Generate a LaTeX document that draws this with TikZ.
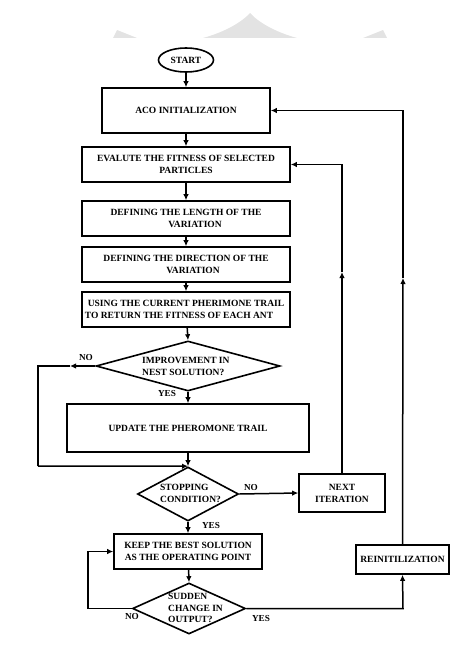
\documentclass[tikz,border=0pt]{standalone}
\usepackage{fontspec}
\setmainfont{Liberation Serif}
\usetikzlibrary{shapes.geometric,arrows.meta}
\begin{document}
\begin{tikzpicture}[x=1pt,y=-1pt,
  every node/.style={font=\fontsize{9.5}{12}\selectfont\bfseries, inner sep=0pt},
  box/.style={draw, line width=1.6pt, rectangle, align=center},
  dec/.style={draw, line width=1.6pt, diamond},
  lbl/.style={align=left},
  conn/.style={line width=1.5pt},
  arr/.style={line width=1.5pt, -{Latex[length=6pt,width=5.5pt]}},
  tag/.style={font=\fontsize{9.2}{11}\selectfont\bfseries}]
\useasboundingbox (0,0) rectangle (474,669);
% faint watermark
\fill[gray!22] (113,38) -- (117,30) -- (137,38) -- cycle;
\fill[gray!22] (203,38) .. controls (225,32) and (242,22) .. (250,13) .. controls (258,22) and (275,32) .. (297,38) -- cycle;
\fill[gray!22] (363,38) -- (383,30) -- (387,38) -- cycle;
% nodes
\node[draw, line width=1.6pt, ellipse, minimum width=55pt, minimum height=24pt] (start) at (186,60) {START};
\node[box, minimum width=168pt, minimum height=45pt] (aco) at (186,110.5) {ACO INITIALIZATION};
\node[box, minimum width=208pt, minimum height=35pt] (eval) at (186,164.5) {EVALUTE THE FITNESS OF SELECTED\\PARTICLES};
\node[box, minimum width=208pt, minimum height=35pt] (len) at (186,218.5) {DEFINING THE LENGTH OF THE\\\hspace*{18pt}VARIATION};
\node[box, minimum width=208pt, minimum height=35pt] (dir) at (186,264.5) {DEFINING THE DIRECTION OF THE\\\hspace*{14pt}VARIATION};
\node[box, minimum width=208pt, minimum height=35pt] (use) at (186,309.5) {USING THE CURRENT PHERIMONE TRAIL\\TO RETURN THE FITNESS OF EACH ANT\hspace*{14pt}};
\node[dec, minimum width=184pt, minimum height=50pt] (imp) at (188,366) {};
\node[lbl, anchor=west] (impt) at (142,366) {IMPROVEMENT IN\\NEST SOLUTION?};
\node[box, minimum width=242pt, minimum height=48pt] (upd) at (188,428) {UPDATE THE PHEROMONE TRAIL};
\node[dec, minimum width=101pt, minimum height=54pt] (stop) at (188,494) {};
\node[lbl, anchor=west] (stopt) at (160,493) {STOPPING\\CONDITION?};
\node[box, minimum width=86pt, minimum height=38pt] (next) at (342,493) {NEXT\\ITERATION};
\node[box, minimum width=148pt, minimum height=35pt] (keep) at (188,551.5) {KEEP THE BEST SOLUTION\\AS THE OPERATING POINT};
\node[dec, minimum width=113pt, minimum height=51pt] (sud) at (189,608.5) {};
\node[lbl, anchor=west, font=\fontsize{9.5}{11.7}\selectfont\bfseries] (sudt) at (168,608) {SUDDEN\\CHANGE IN\\OUTPUT?};
\node[box, minimum width=93pt, minimum height=29pt] (rein) at (402.5,559.5) {REINITILIZATION};
% coordinates
\coordinate (noA) at (38,366);
\coordinate (noB) at (38,466);
\coordinate (nxm) at (342,272);
\coordinate (rm) at (403,278);
\coordinate (sA) at (88,608.5);
\coordinate (sB) at (403,608.5);
% main column
\draw[arr] (start) -- (aco);
\draw[arr] (aco) -- (eval);
\draw[arr] (eval) -- (len);
\draw[arr] (len) -- (dir);
\draw[arr] (dir) -- (use);
\draw[arr] (use) -- (imp.north);
\draw[arr] (imp.south) -- (upd);
\draw[arr] (upd) -- (stop.north);
\draw[arr] (stop.south) -- (keep);
\draw[arr] (keep) -- (sud.north);
% improvement NO loop
\draw[arr] (imp.west) -- (70,366);
\draw[conn] (70,366) -- (noA) -- (noB);
\draw[arr] (noB) -- (stop.north);
% stopping NO
\draw[arr] (stop.east) -- (next.west);
% next iteration back to evaluate
\draw[arr] (next.north) -- (nxm);
\draw[arr] (nxm) |- (eval.east);
% sudden NO loop
\draw[arr] (sud.west) -- (sA) |- (keep.west);
% sudden YES to reinit
\draw[arr] (sud.east) -- (sB) -- (rein.south);
% reinit back to aco
\draw[arr] (rein.north) -- (rm);
\draw[arr] (rm) |- (aco.east);
% labels
\node[tag] (l1) at (86,357) {NO};
\node[tag] (l2) at (167,393) {YES};
\node[tag] (l3) at (251,487) {NO};
\node[tag] (l4) at (211,525) {YES};
\node[tag] (l5) at (132,616) {NO};
\node[tag] (l6) at (261,618) {YES};
\end{tikzpicture}
\end{document}
